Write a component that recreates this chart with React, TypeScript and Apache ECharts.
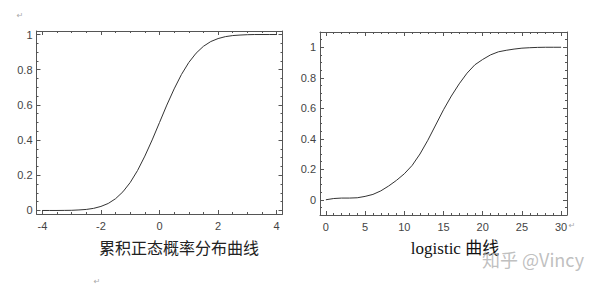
import React, { useEffect, useRef } from "react";
import * as echarts from "echarts";

// Left: cumulative normal distribution
const normX = [-4, -3.75, -3.5, -3.25, -3, -2.75, -2.5, -2.25, -2, -1.75, -1.5, -1.25, -1, -0.75, -0.5, -0.25, 0, 0.25, 0.5, 0.75, 1, 1.25, 1.5, 1.75, 2, 2.25, 2.5, 2.75, 3, 3.25, 3.5, 3.75, 4];
const normY = [0, 0, 0, 0.0005, 0.001, 0.003, 0.006, 0.012, 0.023, 0.04, 0.067, 0.106, 0.159, 0.227, 0.309, 0.401, 0.5, 0.599, 0.691, 0.773, 0.841, 0.894, 0.933, 0.96, 0.977, 0.988, 0.994, 0.997, 0.999, 1, 1, 1, 1];

// Right: logistic curve
const logX = [0, 1, 2, 3, 4, 5, 6, 7, 8, 9, 10, 11, 12, 13, 14, 15, 16, 17, 18, 19, 20, 21, 22, 23, 24, 25, 26, 27, 28, 29, 30];
const logY = [0, 0.008, 0.011, 0.011, 0.013, 0.022, 0.035, 0.058, 0.09, 0.127, 0.17, 0.225, 0.3, 0.39, 0.49, 0.59, 0.68, 0.76, 0.83, 0.885, 0.92, 0.95, 0.97, 0.98, 0.988, 0.994, 0.997, 0.999, 1, 1, 1];

// Tick values
const leftXMajor = [-4, -2, 0, 2, 4];
const leftXMinor = [-4, -3.5, -3, -2.5, -2, -1.5, -1, -0.5, 0, 0.5, 1, 1.5, 2, 2.5, 3, 3.5, 4];
const rightXMajor = [0, 5, 10, 15, 20, 25, 30];
const rightXMinor = [0, 1, 2, 3, 4, 5, 6, 7, 8, 9, 10, 11, 12, 13, 14, 15, 16, 17, 18, 19, 20, 21, 22, 23, 24, 25, 26, 27, 28, 29, 30];
const yMajor = [0, 0.2, 0.4, 0.6, 0.8, 1];
const leftYMinor = [0, 0.05, 0.1, 0.15, 0.2, 0.25, 0.3, 0.35, 0.4, 0.45, 0.5, 0.55, 0.6, 0.65, 0.7, 0.75, 0.8, 0.85, 0.9, 0.95, 1];
const rightYMinor = [-0.1, -0.05, 0, 0.05, 0.1, 0.15, 0.2, 0.25, 0.3, 0.35, 0.4, 0.45, 0.5, 0.55, 0.6, 0.65, 0.7, 0.75, 0.8, 0.85, 0.9, 0.95, 1, 1.05, 1.1];

const captionLeft = "累积正态概率分布曲线";
const captionRight = "logistic 曲线";
const watermark = "知乎 @Vincy";

const FRAME = "#555";
const LABEL_FONT = "'Liberation Sans', Arial, sans-serif";

function makeAxes(
  dim: "x" | "y",
  gridIndex: number,
  min: number,
  max: number,
  major: number[],
  minor: number[]
) {
  const positions = dim === "x" ? ["bottom", "top"] : ["left", "right"];
  const axes: any[] = [];
  positions.forEach((pos, pi) => {
    axes.push({
      type: "value",
      gridIndex,
      position: pos,
      min,
      max,
      splitLine: { show: false },
      axisLine: { show: true, onZero: false, lineStyle: { color: FRAME, width: 1 } },
      axisTick: {
        show: true,
        inside: true,
        length: 4,
        customValues: major,
        lineStyle: { color: FRAME, width: 1 },
      },
      axisLabel: {
        show: pi === 0,
        customValues: major,
        color: "#444",
        fontSize: 11,
        fontFamily: LABEL_FONT,
        margin: dim === "x" ? 6 : 4,
        formatter: (v: number) => String(Math.round(v * 100) / 100),
      },
    });
    axes.push({
      type: "value",
      gridIndex,
      position: pos,
      min,
      max,
      splitLine: { show: false },
      axisLine: { show: false, onZero: false },
      axisTick: {
        show: true,
        inside: true,
        length: 2,
        customValues: minor,
        lineStyle: { color: FRAME, width: 1 },
      },
      axisLabel: { show: false },
    });
  });
  return axes;
}

export default function App() {
  const ref = useRef<HTMLDivElement>(null);

  useEffect(() => {
    if (!ref.current) return;
    const chart = echarts.init(ref.current, null, { renderer: "svg" });

    const xAxis = [
      ...makeAxes("x", 0, -4.2, 4.2, leftXMajor, leftXMinor),
      ...makeAxes("x", 1, -0.75, 30.75, rightXMajor, rightXMinor),
    ];
    const yAxis = [
      ...makeAxes("y", 0, -0.02, 1.02, yMajor, leftYMinor),
      ...makeAxes("y", 1, -0.1, 1.1, yMajor, rightYMinor),
    ];

    const markStyle = { fill: "#aaa", font: "8px 'DejaVu Sans'", textAlign: "center", textVerticalAlign: "middle" };

    const option: any = {
      animation: false,
      backgroundColor: "#fff",
      grid: [
        { left: 36.5, top: 31, width: 246, height: 183, containLabel: false },
        { left: 320, top: 32, width: 247, height: 183, containLabel: false },
      ],
      xAxis,
      yAxis,
      series: [
        {
          type: "line",
          xAxisIndex: 0,
          yAxisIndex: 0,
          data: normX.map((x, i) => [x, normY[i]]),
          showSymbol: false,
          smooth: false,
          lineStyle: { color: "#333", width: 1 },
        },
        {
          type: "line",
          xAxisIndex: 4,
          yAxisIndex: 4,
          data: logX.map((x, i) => [x, logY[i]]),
          showSymbol: false,
          smooth: false,
          lineStyle: { color: "#333", width: 1 },
        },
      ],
      graphic: [
        {
          type: "text",
          x: 179,
          y: 247,
          style: {
            text: captionLeft,
            fill: "#222",
            font: "16px 'Noto Sans CJK SC', sans-serif",
            textAlign: "center",
            textVerticalAlign: "middle",
          },
        },
        {
          type: "text",
          x: 455,
          y: 248,
          style: {
            text: captionRight,
            fill: "#111",
            font: "17px 'Liberation Serif', 'Noto Sans CJK SC', serif",
            textAlign: "center",
            textVerticalAlign: "middle",
          },
        },
        {
          type: "text",
          x: 482,
          y: 259,
          style: {
            text: watermark,
            fill: "rgba(175,175,175,0.8)",
            font: "18px 'Noto Sans CJK SC', 'Noto Sans', sans-serif",
            textAlign: "left",
            textVerticalAlign: "middle",
          },
        },
        { type: "text", x: 20, y: 15, style: { text: "↵", ...markStyle } },
        { type: "text", x: 97, y: 281, style: { text: "↵", ...markStyle } },
        { type: "text", x: 572, y: 225, style: { text: "↵", ...markStyle } },
      ],
    };

    chart.setOption(option);
    return () => chart.dispose();
  }, []);

  return (
    <div
      ref={ref}
      style={{ position: "absolute", left: 0, top: 0, width: 600, height: 284, background: "#fff" }}
    />
  );
}
